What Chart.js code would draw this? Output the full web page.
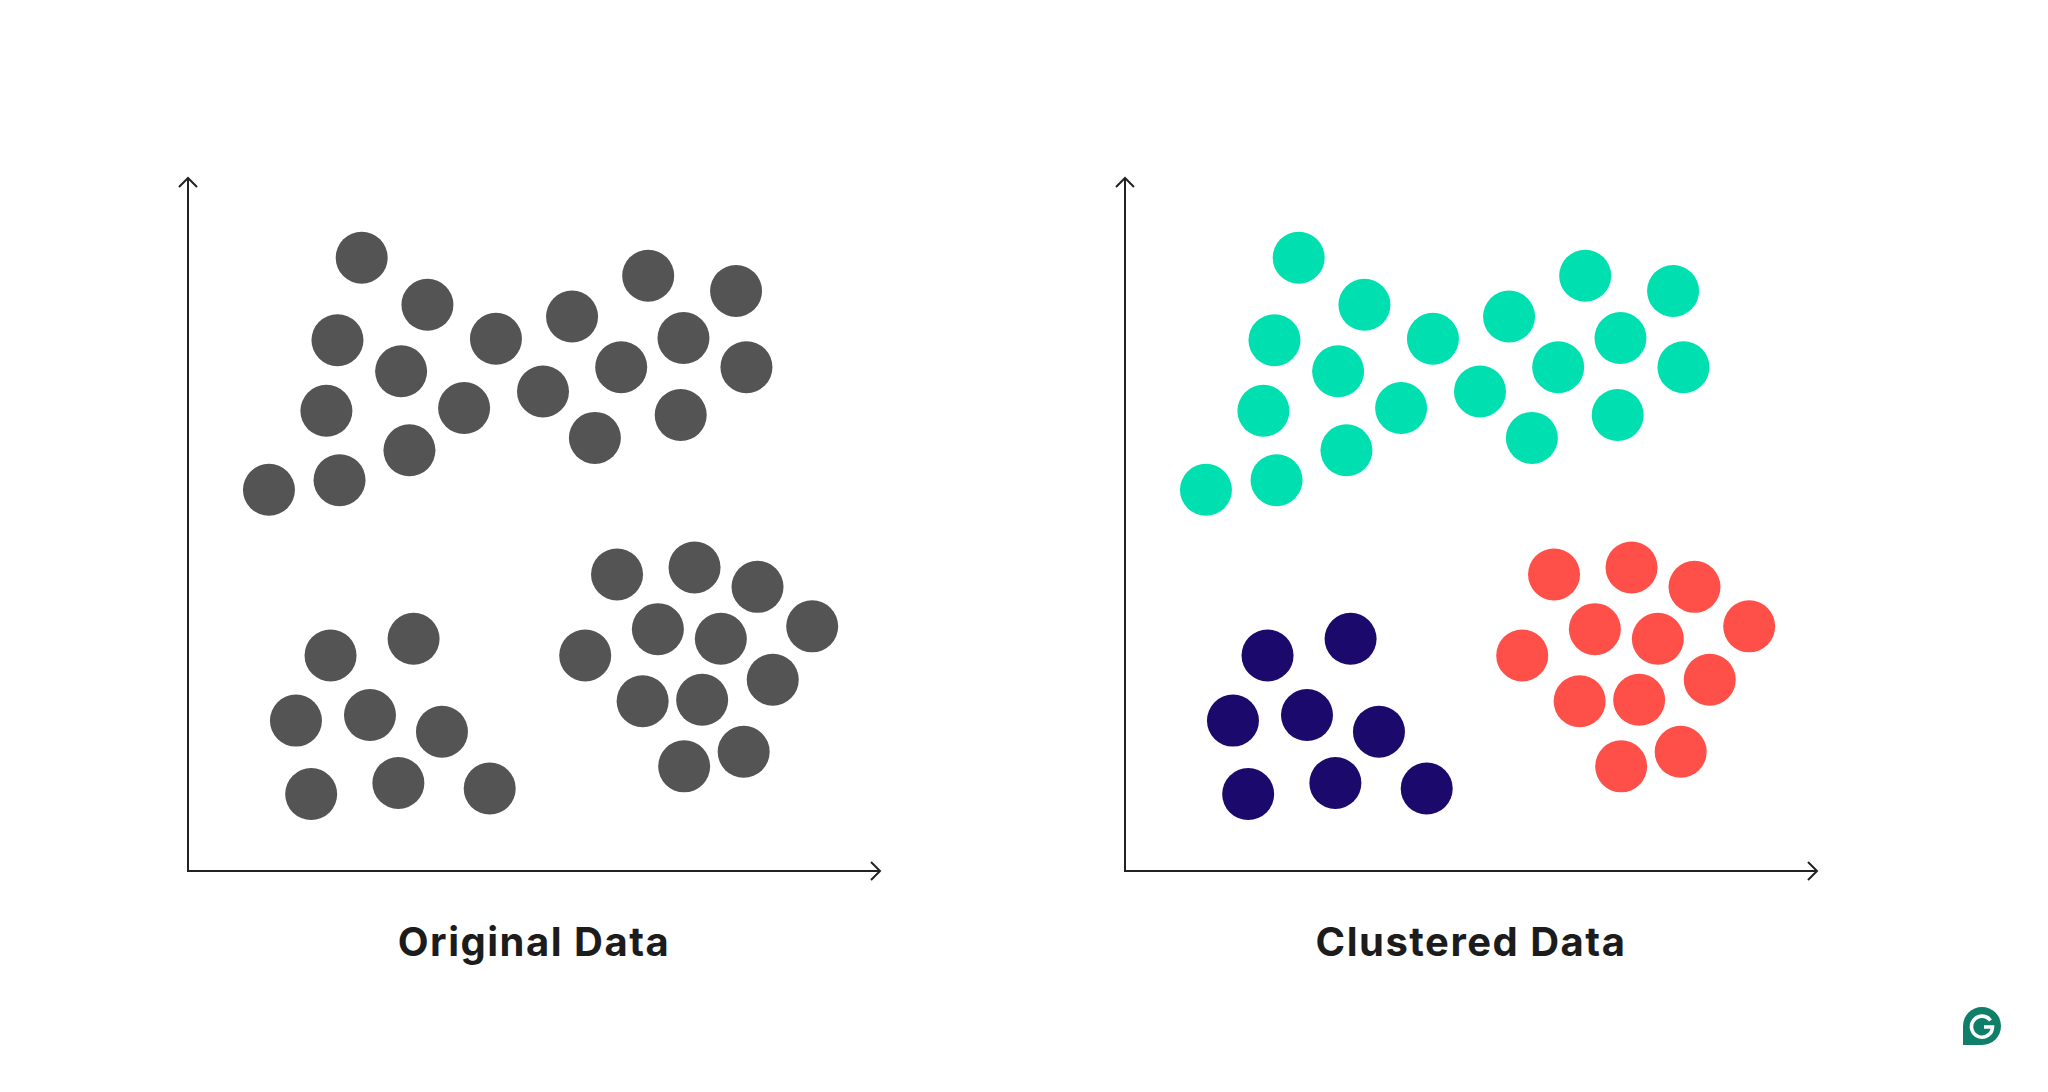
<!DOCTYPE html>
<html>
<head>
<meta charset="utf-8">
<script src="https://cdn.jsdelivr.net/npm/chart.js@4"></script>
<style>
    html, body { margin: 0; padding: 0; background: #ffffff; }
    body { width: 2048px; height: 1092px; position: relative; overflow: hidden; }
    .panel { position: absolute; top: 158px; width: 732px; height: 733px; }
    .caption {
        position: absolute; top: 917px; width: 692px; text-align: center;
        font-family: Inter, "Open Sans", sans-serif; font-weight: 700;
        font-size: 40px; color: #1c1c1c; letter-spacing: 1.5px;
    }
    #logo { position: absolute; left: 1963px; top: 1007px; }
</style>
</head>
<body>

<div class="panel" style="left:168px"><canvas id="originalChart"></canvas></div>
<div class="panel" style="left:1105px"><canvas id="clusteredChart"></canvas></div>

<div class="caption" style="left:188px">Original Data</div>
<div class="caption" style="left:1125px">Clustered Data</div>

<svg id="logo" width="38" height="38" viewBox="0 0 38 38">
    <path d="M19 0 A19 19 0 1 1 19 38 L0 38 L0 19 A19 19 0 0 1 19 0 Z" fill="#107f69"/>
    <path d="M27.5 13.5 A10.5 10.5 0 1 0 29.5 20 L21 20" fill="none" stroke="#ffffff" stroke-width="3.6"/>
</svg>

<script>
// =====================================
// DATA (axis units, 0 - 10)
// =====================================
const topX = [2.51, 3.46, 2.16, 3.08, 4.45, 5.55, 6.65, 7.92, 7.16, 6.26, 8.07, 5.13, 3.99, 2.00, 3.20, 5.88, 7.12, 1.17, 2.19];
const topY = [8.85, 8.17, 7.66, 7.21, 7.68, 8.00, 8.59, 8.37, 7.69, 7.27, 7.27, 6.92, 6.68, 6.64, 6.07, 6.25, 6.58, 5.50, 5.64];

const lowLeftX = [2.06, 3.26, 1.56, 2.63, 3.67, 1.78, 3.04, 4.36];
const lowLeftY = [3.11, 3.35, 2.17, 2.25, 2.01, 1.11, 1.27, 1.19];

const lowRightX = [6.20, 7.32, 8.23, 9.02, 6.79, 7.70, 5.74, 8.45, 6.57, 7.43, 8.03, 7.17];
const lowRightY = [4.28, 4.38, 4.10, 3.53, 3.49, 3.35, 3.11, 2.76, 2.45, 2.47, 1.72, 1.51];

const axisMin = 0;
const axisMax = 10;

const GRAY = "#545454";
const TEAL = "#00dfb0";
const NAVY = "#1b0a6b";
const RED = "#ff4f49";

function toPoints(xs, ys) {
    return xs.map((x, i) => ({ x: x, y: ys[i] }));
}

function dotSet(xs, ys, color) {
    return {
        data: toPoints(xs, ys),
        backgroundColor: color,
        borderWidth: 0,
        pointRadius: 26,
        pointHoverRadius: 26,
        clip: false
    };
}

// =====================================
// AXIS LINES WITH ARROW HEADS
// =====================================
const axisArrows = {
    id: "axisArrows",
    afterDraw(chart) {
        const ctx = chart.ctx;
        const x = chart.scales.x;
        const y = chart.scales.y;
        const x0 = x.getPixelForValue(axisMin);
        const x1 = x.getPixelForValue(axisMax);
        const y0 = y.getPixelForValue(axisMin);
        const y1 = y.getPixelForValue(axisMax);

        ctx.save();
        ctx.strokeStyle = "#222222";
        ctx.lineWidth = 2;
        ctx.beginPath();
        ctx.moveTo(x0, y1);
        ctx.lineTo(x0, y0);
        ctx.lineTo(x1, y0);
        ctx.stroke();

        ctx.beginPath();
        ctx.moveTo(x0 - 9, y1 + 9);
        ctx.lineTo(x0, y1);
        ctx.lineTo(x0 + 9, y1 + 9);
        ctx.moveTo(x1 - 9, y0 - 9);
        ctx.lineTo(x1, y0);
        ctx.lineTo(x1 - 9, y0 + 9);
        ctx.stroke();
        ctx.restore();
    }
};

function makeChart(id, datasets) {
    return new Chart(document.getElementById(id), {
        type: "scatter",
        data: { datasets: datasets },
        options: {
            responsive: true,
            maintainAspectRatio: false,
            animation: false,
            events: [],
            layout: { padding: 20, autoPadding: false },
            plugins: {
                legend: { display: false },
                tooltip: { enabled: false }
            },
            scales: {
                x: { display: false, min: axisMin, max: axisMax },
                y: { display: false, min: axisMin, max: axisMax }
            }
        },
        plugins: [axisArrows]
    });
}

// =====================================
// INIT
// =====================================
makeChart("originalChart", [
    dotSet(topX, topY, GRAY),
    dotSet(lowLeftX, lowLeftY, GRAY),
    dotSet(lowRightX, lowRightY, GRAY)
]);

makeChart("clusteredChart", [
    dotSet(topX, topY, TEAL),
    dotSet(lowLeftX, lowLeftY, NAVY),
    dotSet(lowRightX, lowRightY, RED)
]);
</script>
</body>
</html>
